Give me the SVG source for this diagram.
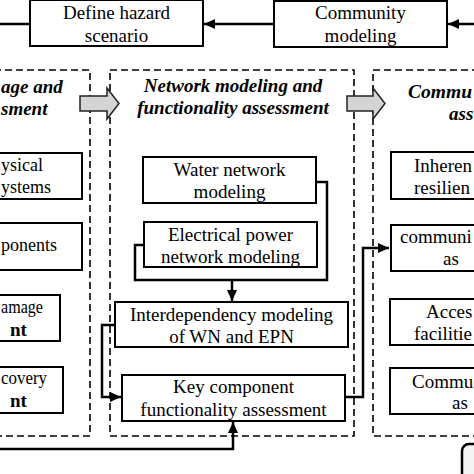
<svg xmlns="http://www.w3.org/2000/svg" width="474" height="474" viewBox="0 0 474 474">
<defs>
<style>
.box{fill:#fff;stroke:#000;stroke-width:2}
.cont{fill:none;stroke:#000;stroke-width:1.6;stroke-dasharray:7 4}
.t{font-family:"Liberation Serif","Times New Roman",serif;font-size:19px;fill:#000}
.c{text-anchor:middle}
.e{text-anchor:end}
.h{font-weight:bold;font-style:italic}
.b{font-weight:bold}
.con{fill:none;stroke:#000;stroke-width:2.5}
.fat{fill:#d4d4d4;stroke:#222;stroke-width:1.5}
</style>
<marker id="ah" markerUnits="userSpaceOnUse" markerWidth="12" markerHeight="10" refX="11" refY="5" orient="auto">
<path d="M0,0 L11,5 L0,10 Z" fill="#000"/>
</marker>
</defs>
<rect width="474" height="474" fill="#fff"/>

<g id="containers">
<rect id="cont-damage" class="cont" x="-160" y="70" width="250" height="366"/>
<rect id="cont-network" class="cont" x="110" y="70" width="244" height="366"/>
<rect id="cont-community" class="cont" x="373" y="70" width="140" height="366"/>
</g>

<g id="connectors">
<path class="con" d="M0 24 H30"/>
<path class="con" d="M274 24 H204" marker-end="url(#ah)"/>
<path class="con" d="M474 24 H448" marker-end="url(#ah)"/>
<path class="con" d="M316 182 H327 V280 H135 V245 H144"/>
<path class="con" d="M232 280 V301" marker-end="url(#ah)"/>
<path class="con" d="M115 325 H102 V397 H121" marker-end="url(#ah)"/>
<path class="con" d="M0 449 H233 V422" marker-end="url(#ah)"/>
<path class="con" d="M345 397 H363 V248 H389" marker-end="url(#ah)"/>
<polygon class="fat" points="80,96 107,96 107,88 119,103.5 107,119 107,111 80,111"/>
<polygon class="fat" points="347,96 373,96 373,88 385,103.5 373,119 373,111 347,111"/>
</g>

<g id="hazard">
<rect class="box" x="30" y="0" width="173" height="46"/>
<text class="t c" x="116.5" y="19">Define hazard</text>
<text class="t c" x="116.5" y="42">scenario</text>
</g>
<g id="community-modeling">
<rect class="box" x="274" y="1" width="173" height="46"/>
<text class="t c" x="360.5" y="19">Community</text>
<text class="t c" x="360.5" y="42">modeling</text>
</g>

<g id="damage-title">
<text class="t h" x="1" y="93">age and</text>
<text class="t h" x="1" y="115">sment</text>
</g>
<g id="physical">
<rect class="box" x="-20" y="153" width="102" height="46"/>
<text class="t" x="1" y="171" textLength="42" lengthAdjust="spacingAndGlyphs">ysical</text>
<text class="t" x="1" y="193" textLength="50" lengthAdjust="spacingAndGlyphs">ystems</text>
</g>
<g id="components">
<rect class="box" x="-20" y="223" width="102" height="47"/>
<text class="t" x="1" y="251" textLength="56" lengthAdjust="spacingAndGlyphs">ponents</text>
</g>
<g id="damage">
<rect class="box" x="-20" y="295" width="80" height="46"/>
<text class="t" x="1" y="313" textLength="42" lengthAdjust="spacingAndGlyphs">amage</text>
<text class="t b" x="10" y="336">nt</text>
</g>
<g id="recovery">
<rect class="box" x="-20" y="367" width="83" height="46"/>
<text class="t" x="1" y="384" textLength="46" lengthAdjust="spacingAndGlyphs">covery</text>
<text class="t b" x="10" y="407">nt</text>
</g>

<g id="network-title">
<text class="t c h" x="233" y="92">Network modeling and</text>
<text class="t c h" x="233" y="114">functionality assessment</text>
</g>
<g id="water">
<rect class="box" x="143" y="157" width="173" height="46"/>
<text class="t c" x="229.5" y="176">Water network</text>
<text class="t c" x="229.5" y="198">modeling</text>
</g>
<g id="epn">
<rect class="box" x="144" y="222" width="173" height="45"/>
<text class="t c" x="230.5" y="241">Electrical power</text>
<text class="t c" x="230.5" y="263">network modeling</text>
</g>
<g id="interdependency">
<rect class="box" x="115" y="302" width="233" height="45"/>
<text class="t c" x="231.5" y="321">Interdependency modeling</text>
<text class="t c" x="231.5" y="343">of WN and EPN</text>
</g>
<g id="key">
<rect class="box" x="122" y="375" width="223" height="46"/>
<text class="t c" x="233.5" y="393">Key component</text>
<text class="t c" x="233.5" y="416">functionality assessment</text>
</g>

<g id="community-title">
<text class="t h" x="408" y="98" textLength="64" lengthAdjust="spacingAndGlyphs">Commu</text>
<text class="t h" x="449" y="120">ass</text>
</g>
<g id="inherent">
<rect class="box" x="391" y="152" width="110" height="47"/>
<text class="t" x="414" y="172">Inheren</text>
<text class="t" x="414" y="194">resilien</text>
</g>
<g id="community-assess">
<rect class="box" x="391" y="225" width="110" height="46"/>
<text class="t" x="400" y="243">communi</text>
<text class="t" x="443" y="265">as</text>
</g>
<g id="access">
<rect class="box" x="390" y="299" width="110" height="46"/>
<text class="t" x="426" y="318">Acces</text>
<text class="t" x="414" y="340">facilitie</text>
</g>
<g id="community-res">
<rect class="box" x="390" y="368" width="110" height="46"/>
<text class="t" x="412" y="388">Commu</text>
<text class="t" x="452" y="409">as</text>
</g>
<g id="legend">
<rect x="462" y="444" width="40" height="50" rx="7" fill="#f4f4f4" stroke="#000" stroke-width="2.5"/>
</g>
</svg>
